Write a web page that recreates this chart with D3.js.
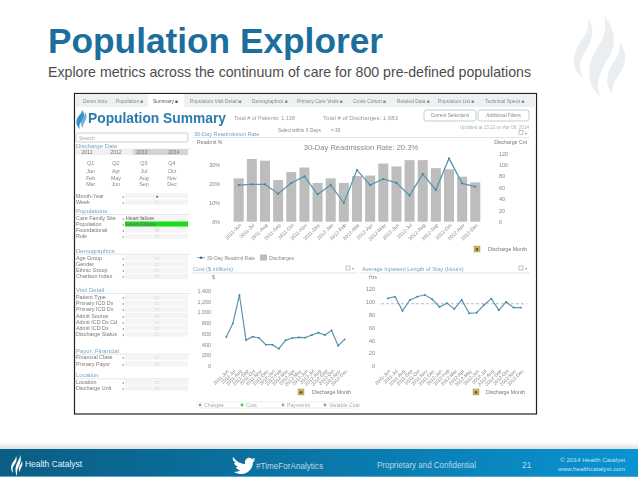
<!DOCTYPE html>
<html><head><meta charset="utf-8">
<script src="https://cdn.jsdelivr.net/npm/d3@7"></script>
<style>html,body{margin:0;padding:0;background:#fff}svg{display:block}text{font-family:"Liberation Sans",Arial,sans-serif}</style>
</head><body><svg id="c" width="638" height="479"></svg>
<script>
const months=["2011-Jun","2011-Jul","2011-Aug","2011-Sep","2011-Oct","2011-Nov","2011-Dec","2012-Jan","2012-Feb","2012-Mar","2012-Apr","2012-May","2012-Jun","2012-Jul","2012-Aug","2012-Sep","2012-Oct","2012-Nov","2012-Dec"];
const discharges=[76,110,107,73,87,95,68,76,68,80,81,102,97,108,108,94,92,79,69];
const readmitRate=[19.4,19.8,19.8,14.8,20.5,24,14.5,19.4,10,27.3,19.4,22.6,20.6,13.9,25.2,16.8,33.5,20.3,18.5];
const cost=[539,793,1320,483,545,520,396,396,322,477,520,533,527,576,619,576,663,378,496];
const los=[105.5,108,86,103,108,111,104,92,98,89,103,82,83,95,105,87,100,91,91];
const losReference=97;
const rateTicks=[0,10,20,30];
const countTicks=[0,20,40,60,80,100,120];
const costTicks=[0,200,400,600,800,1000,1200,1400];
const losTicks=[0,20,40,60,80,100,120];
const tabs=[["Demo Intro",83],["Population ■",116],["Summary ■",153],["Population Visit Detail ■",190],["Demographics ■",252],["Primary Care Visits ■",297],["Cross Cohort ■",353],["Related Data ■",397],["Population List ■",438],["Technical Specs ■",485]];
const sections=[["Discharge Date",145.7],["Populations",211],["Demographics",250.7],["Visit Detail",290],["Payor: Financial",350.7],["Location",375.3]];
const filters=[["Month-Year",195.7,"●"],["Week",202,"□"],["Care Family Site",218,"Heart failure"],["Population",224,"Heart Failure"],["Foundational",230,"N"],["Rule",236.3,"□"],["Age Group",257.7,"□"],["Gender",264,"□"],["Ethnic Group",270.3,"□"],["Charlson Index",276.3,"□"],["Patient Type",297.3,"□"],["Primary ICD Dx",303.3,"□"],["Primary ICD Dx",309.3,"□"],["Admit Source",315.7,"□"],["Admit ICD Dx Cd",321.7,"□"],["Admit ICD Dx",327.7,"□"],["Discharge Status",334,"□"],["Financial Class",357.3,"□"],["Primary Payor",363.7,"□"],["Location",382,"□"],["Discharge Unit",388,"□"]];
const years=[["2011",87],["2012",116],["2013",142],["2014",174]];
const quarters=[["Q1",90.7],["Q2",116],["Q3",144],["Q4",172]];
const monthGrid=[["Jan","Apr","Jul","Oct"],["Feb","May","Aug","Nov"],["Mar","Jun","Sep","Dec"]];
const costLegend=[["Charges",200,"#999"],["Cost",242,"#35c635"],["Payments",283,"#999"],["Variable Cost",325,"#999"]];

const BLUE="#1c6f9c",LINE="#5a97ae",TXT="#858585",HEAD="#74a5c4";
const svg=d3.select("#c");
const defs=svg.append("defs");
defs.append("filter").attr("id","soft").attr("x","-2%").attr("y","-2%").attr("width","104%").attr("height","104%")
  .append("feGaussianBlur").attr("stdDeviation",0.6);
const fg=defs.append("linearGradient").attr("id","foot");
fg.append("stop").attr("offset","0").attr("stop-color","#0b5d84");
fg.append("stop").attr("offset","0.5").attr("stop-color","#0a77a8");
fg.append("stop").attr("offset","1").attr("stop-color","#0a93d3");
const sh=defs.append("linearGradient").attr("id","shade").attr("x2",0).attr("y2",1);
sh.append("stop").attr("offset","0").attr("stop-color","#ffffff");
sh.append("stop").attr("offset","1").attr("stop-color","#d3dde2");

function T(g,x,y,s,size,fill,o={}){const t=g.append("text").attr("x",x).attr("y",y).text(s).attr("font-size",size).attr("fill",fill);
  if(o.a)t.attr("text-anchor",o.a);if(o.w)t.attr("font-weight",o.w);if(o.tl)t.attr("textLength",o.tl).attr("lengthAdjust","spacingAndGlyphs");return t;}

// slide header
T(svg,48,53,"Population Explorer",35,BLUE,{w:"bold",tl:335});
T(svg,48,77,"Explore metrics across the continuum of care for 800 pre-defined populations",14.5,"#4d4d4d",{tl:483});
// watermark flames
const fl=svg.append("g").attr("fill","#ebeef0");
fl.append("path").attr("d","M588 18C596 30 592 42 585 52C579 62 578 70 584 78C572 72 572 56 578 46C584 36 590 30 588 18Z");
fl.append("path").attr("d","M604 16C618 32 616 48 606 62C598 76 596 86 600 96C586 84 587 66 595 52C602 40 608 32 604 16Z");
fl.append("path").attr("d","M619 42C628 52 626 64 620 73C614 82 612 88 612 94C604 84 607 72 613 63C618 56 621 50 619 42Z");

// dashboard screenshot
const d=svg.append("g").attr("filter","url(#soft)");
d.append("rect").attr("x",74.5).attr("y",93.5).attr("width",462).attr("height",320.5).attr("fill","#fff").attr("stroke","#222").attr("stroke-width",1.2);
d.append("rect").attr("x",75).attr("y",94).attr("width",461).attr("height",13).attr("fill","#eef1f2");
d.append("rect").attr("x",148).attr("y",94).attr("width",36).attr("height",14).attr("fill","#fff");
d.selectAll(".tab").data(tabs).join("text").attr("class","tab").attr("x",t=>t[1]).attr("y",103).text(t=>t[0]).attr("font-size",4.9).attr("fill",t=>t[0].startsWith("Summary")?"#555":"#888");

T(d,88,122.5,"Population Summary",13.8,"#2b7bb0",{w:"bold"});
d.append("path").attr("d","M82 110C86 115 84 119 81 122C79 125 79 127 80 129C75 125 76 120 78 117C80 114 82 113 82 110Z").attr("fill","#3a8fc4");
d.append("path").attr("d","M85 112C88 116 86 120 84 123C83 125 83 126 83 128C80 125 81 120 83 118C84 116 85 115 85 112Z").attr("fill","#6db2da");

// left filter panel
d.append("rect").attr("x",76).attr("y",133).attr("width",112).attr("height",9).attr("rx",2).attr("fill","#fff").attr("stroke","#ccd");
T(d,79,139.5,"Search",5,"#aaa");
d.selectAll(".sec").data(sections).join("text").attr("class","sec").attr("x",76).attr("y",s=>s[1]+2).text(s=>s[0]).attr("font-size",6).attr("fill",HEAD);
d.selectAll(".secl").data(sections).join("line").attr("class","secl").attr("x1",76).attr("x2",190).attr("y1",s=>s[1]+3.5).attr("y2",s=>s[1]+3.5).attr("stroke","#c9d8e2").attr("stroke-width",.6);
d.append("rect").attr("x",76).attr("y",149).attr("width",57).attr("height",6).attr("fill","#f0f0f0");
d.append("rect").attr("x",133).attr("y",149).attr("width",55).attr("height",6).attr("fill","#d4d4d4");
d.selectAll(".yr").data(years).join("text").attr("class","yr").attr("x",y=>y[1]).attr("y",154.2).attr("text-anchor","middle").text(y=>y[0]).attr("font-size",5.2).attr("fill","#777");
d.selectAll(".q").data(quarters).join("text").attr("class","q").attr("x",q=>q[1]).attr("y",164.8).attr("text-anchor","middle").text(q=>q[0]).attr("font-size",5.5).attr("fill","#888");
monthGrid.forEach((row,i)=>{
  d.append("g").selectAll("text").data(row).join("text").attr("x",(m,j)=>quarters[j][1]).attr("y",173+i*6.5).attr("text-anchor","middle").text(m=>m).attr("font-size",5.3).attr("fill","#888");
});
const rowG=d.append("g");
rowG.selectAll("rect").data(filters).join("rect").attr("x",125).attr("y",f=>f[1]-2.6).attr("width",63).attr("height",5.2).attr("fill",f=>f[0]==="Population"?"#1fdc1f":"#f4f4f4");
rowG.selectAll(".lab").data(filters).join("text").attr("class","lab").attr("x",76).attr("y",f=>f[1]+2).text(f=>f[0]).attr("font-size",5.4).attr("fill","#777");
rowG.selectAll(".arr").data(filters).join("text").attr("class","arr").attr("x",122).attr("y",f=>f[1]+2).text("◂").attr("font-size",4).attr("fill","#999");
rowG.selectAll(".val").data(filters).join("text").attr("class","val")
  .attr("x",f=>f[2].length>1?126:157).attr("y",f=>f[1]+2).attr("text-anchor",f=>f[2].length>1?"start":"middle")
  .text(f=>f[2]).attr("font-size",f=>f[2].length>1?5.2:5).attr("fill",f=>f[2]==="●"?"#5b7f97":(f[2].length>1?"#666":"#c8c8c8"));

// top header strip
T(d,234,120,"Total # of Patients: 1,138",5.4,"#999",{tl:61});
T(d,323,120,"Total # of Discharges: 1,683",5.4,"#999",{tl:75});
[["Current Selections",424,52],["Additional Filters",478,51]].forEach(b=>{
  d.append("rect").attr("x",b[1]).attr("y",110).attr("width",b[2]).attr("height",11).attr("rx",2.5).attr("fill","#fff").attr("stroke","#9fb9c8").attr("stroke-width",.7);
  T(d,b[1]+b[2]/2,117.2,b[0],4.7,"#888",{a:"middle"});
});
T(d,529,128.5,"Updated at 13:22 on Apr 08, 2014",4.6,"#b0b0b0",{a:"end"});
T(d,278,131.5,"Select within X Days",4.7,"#888");
T(d,331,131.5,"= 30",4.7,"#888");

function header(x,y,w,s){T(d,x,y,s,5.6,HEAD);d.append("line").attr("x1",x-1).attr("x2",x+w).attr("y1",y+2).attr("y2",y+2).attr("stroke","#cfdde6").attr("stroke-width",.7);
  d.append("rect").attr("x",x+w-11).attr("y",y-5).attr("width",4).attr("height",4).attr("fill","none").attr("stroke","#999").attr("stroke-width",.6);
  T(d,x+w-5,y-1,"▾",4,"#999");}
header(194,135.5,336,"30-Day Readmission Rate");
header(193,271,164,"Cost ($ millions)");
header(362,271,168,"Average Inpatient Length of Stay (Hours)");

function axisStyle(g){g.select(".domain").remove();g.selectAll(".tick line").remove();g.selectAll("text").attr("fill",TXT).attr("font-size",5.4).attr("font-family","Liberation Sans");}
function monthAxis(g,x,y,size){
  const ax=g.append("g").attr("transform",`translate(0,${y})`).call(d3.axisBottom(x).tickSize(0).tickPadding(2));
  ax.select(".domain").remove();
  ax.selectAll("text").attr("fill",TXT).attr("font-size",size).attr("text-anchor","end").attr("dy","0.3em").attr("transform","rotate(-45)");
}
function icon(x,y){d.append("rect").attr("x",x).attr("y",y).attr("width",6).attr("height",6).attr("fill","#d7b45a").attr("stroke","#9b8a4a").attr("stroke-width",.4);
  d.append("circle").attr("cx",x+3).attr("cy",y+3.4).attr("r",1.4).attr("fill","#555");}

// main chart
const x1=d3.scalePoint().domain(months).range([238.7,475.3]);
const yRate=d3.scaleLinear().domain([0,30]).range([221.7,165]);
const yCnt=d3.scaleLinear().domain([0,120]).range([221.7,153.3]);
d.append("g").attr("transform","translate(223,0)").call(d3.axisLeft(yRate).tickValues(rateTicks).tickFormat(v=>v+"%").tickSize(0)).call(axisStyle);
d.append("g").attr("transform","translate(496,0)").call(d3.axisRight(yCnt).tickValues(countTicks).tickSize(0)).call(axisStyle);
d.selectAll(".bar").data(discharges).join("rect").attr("class","bar").attr("x",(v,i)=>x1(months[i])-5).attr("width",10)
  .attr("y",v=>yCnt(v)).attr("height",v=>yCnt(0)-yCnt(v)).attr("fill","#bdbdbd");
const lr=d3.line().x((v,i)=>x1(months[i])).y(v=>yRate(v));
d.append("path").attr("d",lr(readmitRate)).attr("fill","none").attr("stroke",LINE).attr("stroke-width",1.3);
d.selectAll(".pr").data(readmitRate).join("circle").attr("class","pr").attr("cx",(v,i)=>x1(months[i])).attr("cy",v=>yRate(v)).attr("r",1).attr("fill","#3d7f9c");
monthAxis(d,x1,223,5);
T(d,197,144,"Readmit %",5.2,"#777");
T(d,527,144,"Discharge Cnt",5.2,"#777",{a:"end"});
T(d,361,149.5,"30-Day Readmission Rate: 20.3%",7.6,"#888",{a:"middle"});
icon(474,246);T(d,488,250.5,"Discharge Month",5.2,"#777");
d.append("line").attr("x1",197).attr("x2",205).attr("y1",257.7).attr("y2",257.7).attr("stroke",LINE).attr("stroke-width",.8);
d.append("circle").attr("cx",201).attr("cy",257.7).attr("r",1.3).attr("fill","#2f6f8c");
T(d,207,259.5,"30-Day Readmit Rate",5,"#888");
d.append("rect").attr("x",260).attr("y",254.5).attr("width",7).attr("height",6).attr("fill","#bdbdbd");
T(d,269,259.5,"Discharges",5,"#888");

// cost chart
const x2=d3.scalePoint().domain(months).range([226.3,344.7]);
const yCost=d3.scaleLinear().domain([0,1400]).range([366,290.7]);
d.append("g").attr("transform","translate(214,0)").call(d3.axisLeft(yCost).tickValues(costTicks).tickFormat(d3.format(",")).tickSize(0)).call(axisStyle);
d.append("path").attr("d",d3.line().x((v,i)=>x2(months[i])).y(v=>yCost(v))(cost)).attr("fill","none").attr("stroke",LINE).attr("stroke-width",1.2);
d.selectAll(".pc").data(cost).join("circle").attr("class","pc").attr("cx",(v,i)=>x2(months[i])).attr("cy",v=>yCost(v)).attr("r",.9).attr("fill","#3d7f9c");
monthAxis(d,x2,369,4.8);
T(d,212,279,"$",5,"#777");
icon(298,389);T(d,312,394,"Discharge Month",5.2,"#777");
d.append("rect").attr("x",197).attr("y",402).attr("width",160).attr("height",6).attr("fill","#fff").attr("stroke","#e2e6e8").attr("stroke-width",.6);
d.selectAll(".lgc").data(costLegend).join("circle").attr("class","lgc").attr("cx",l=>l[1]).attr("cy",405).attr("r",1.4).attr("fill",l=>l[2]);
d.selectAll(".lgt").data(costLegend).join("text").attr("class","lgt").attr("x",l=>l[1]+4).attr("y",407).text(l=>l[0]).attr("font-size",5.2).attr("fill","#aaa");

// LOS chart
const x3=d3.scalePoint().domain(months).range([387.7,521]);
const yLos=d3.scaleLinear().domain([0,120]).range([366,289]);
d.append("g").attr("transform","translate(378,0)").call(d3.axisLeft(yLos).tickValues(losTicks).tickSize(0)).call(axisStyle);
d.append("line").attr("x1",381).attr("x2",527).attr("y1",yLos(losReference)).attr("y2",yLos(losReference)).attr("stroke","#aaa").attr("stroke-width",.8).attr("stroke-dasharray","3 2");
d.append("path").attr("d",d3.line().x((v,i)=>x3(months[i])).y(v=>yLos(v))(los)).attr("fill","none").attr("stroke",LINE).attr("stroke-width",1.2);
d.selectAll(".pl").data(los).join("circle").attr("class","pl").attr("cx",(v,i)=>x3(months[i])).attr("cy",v=>yLos(v)).attr("r",.9).attr("fill","#3d7f9c");
monthAxis(d,x3,369,4.8);
T(d,373,279,"Hrs",5,"#777",{a:"middle"});
icon(473,389);T(d,486,394,"Discharge Month",5.2,"#777");

// footer
svg.append("rect").attr("x",0).attr("y",442).attr("width",638).attr("height",8).attr("fill","url(#shade)");
svg.append("rect").attr("x",0).attr("y",449).attr("width",638).attr("height",28).attr("fill","url(#foot)");
svg.append("rect").attr("x",0).attr("y",476).attr("width",638).attr("height",1).attr("fill","#5aa7c4");
const lg=svg.append("g").attr("fill","#fff");
lg.append("path").attr("d","M16 456C18 460 15 464 13 467C12 469 13 471 13 473C10 469 11 465 13 462C14 460 16 459 16 456Z");
lg.append("path").attr("d","M20 455C22 460 20 464 18 468C17 471 17 473 17 476C14 470 16 465 18 461C19 459 20 458 20 455Z");
lg.append("path").attr("d","M22 461C23 464 22 466 21 468C20 470 20 471 20 472C18 469 19 466 21 464C21 463 22 462 22 461Z");
T(svg,25,467,"Health Catalyst",8.6,"#e6f0f5",{tl:57});
svg.append("path").attr("fill","#fff").attr("d","M233 457C237 462 241 464 245 464C244 459 249 456 252 459C253 459 254 458 255 458C255 459 254 460 253 461C254 461 255 460 255 460C255 461 254 462 253 462C253 470 245 478 234 472C237 472 239 471 240 470C238 470 236 468 236 467L238 467C236 466 234 464 234 463L236 463C234 462 232 459 233 457Z");
T(svg,256,469,"#TimeForAnalytics",8.4,"#bcd8e6",{tl:67});
T(svg,377,468,"Proprietary and Confidential",8.4,"#bcd8e6",{tl:99});
T(svg,522,468,"21",8.4,"#bcd8e6");
T(svg,625,462,"© 2014 Health Catalyst",6,"#c8e0ec",{a:"end",tl:65});
T(svg,625,471,"www.healthcatalyst.com",6,"#c8e0ec",{a:"end",tl:67});
</script></body></html>
